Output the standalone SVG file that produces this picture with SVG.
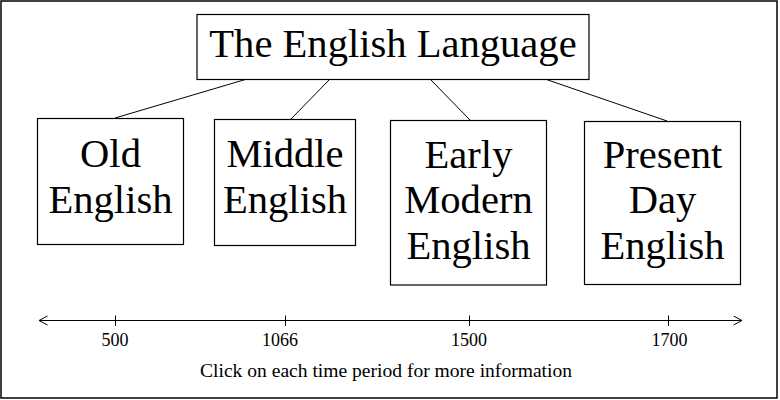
<svg xmlns="http://www.w3.org/2000/svg" width="780" height="400" viewBox="0 0 780 400">
<style>
.box{fill:#fff;stroke:#000;stroke-width:1.2}
.big{font-family:"Liberation Serif","Times New Roman",serif;font-size:40.6px;fill:#000;text-anchor:middle}
.small{font-family:"Liberation Serif","Times New Roman",serif;font-size:18px;fill:#000;text-anchor:middle}
.conn line{stroke:#000;stroke-width:1}
</style>
<defs>
<marker id="arr" markerUnits="userSpaceOnUse" markerWidth="12" markerHeight="12" refX="9" refY="5" orient="auto-start-reverse">
<path d="M0.5,0.5 L9,5 L0.5,9.5" fill="none" stroke="#000" stroke-width="1"/>
</marker>
</defs>
<rect x="0" y="0" width="780" height="400" fill="#fff"/>
<rect x="1" y="1" width="776" height="397" fill="none" stroke="#000" stroke-width="1.5"/>
<g id="connectors" class="conn">
<line x1="247" y1="79" x2="115" y2="118"/>
<line x1="330" y1="79" x2="291" y2="119"/>
<line x1="430" y1="79" x2="470" y2="120"/>
<line x1="545" y1="79" x2="667" y2="121"/>
</g>
<g id="title">
<rect class="box" x="197" y="14.5" width="392" height="65"/>
<text class="big" x="393" y="57">The English Language</text>
</g>
<g id="old-english">
<rect class="box" x="37.5" y="118.5" width="146" height="126"/>
<text class="big" x="110.5" y="167">Old</text>
<text class="big" x="110.5" y="212.5">English</text>
</g>
<g id="middle-english">
<rect class="box" x="214.5" y="119.5" width="141" height="126"/>
<text class="big" x="285" y="167">Middle</text>
<text class="big" x="285" y="212.5">English</text>
</g>
<g id="early-modern-english">
<rect class="box" x="390.5" y="120.5" width="156" height="164.5"/>
<text class="big" x="468.5" y="167.5">Early</text>
<text class="big" x="468.5" y="213">Modern</text>
<text class="big" x="468.5" y="258.5">English</text>
</g>
<g id="present-day-english">
<rect class="box" x="584.5" y="121.5" width="156" height="163"/>
<text class="big" x="662.5" y="167.5">Present</text>
<text class="big" x="662.5" y="213">Day</text>
<text class="big" x="662.5" y="258.5">English</text>
</g>
<g id="timeline">
<line x1="39" y1="320.5" x2="742" y2="320.5" stroke="#000" stroke-width="1" marker-start="url(#arr)" marker-end="url(#arr)"/>
<line x1="115.5" y1="315.5" x2="115.5" y2="326" stroke="#000" stroke-width="1"/>
<line x1="285.5" y1="315.5" x2="285.5" y2="326" stroke="#000" stroke-width="1"/>
<line x1="469.5" y1="315.5" x2="469.5" y2="326" stroke="#000" stroke-width="1"/>
<line x1="668.5" y1="315.5" x2="668.5" y2="326" stroke="#000" stroke-width="1"/>
<text class="small" x="115" y="346">500</text>
<text class="small" x="280" y="346">1066</text>
<text class="small" x="469" y="346">1500</text>
<text class="small" x="669.5" y="346">1700</text>
</g>
<text class="small" x="386" y="377" textLength="372" lengthAdjust="spacingAndGlyphs">Click on each time period for more information</text>
</svg>
